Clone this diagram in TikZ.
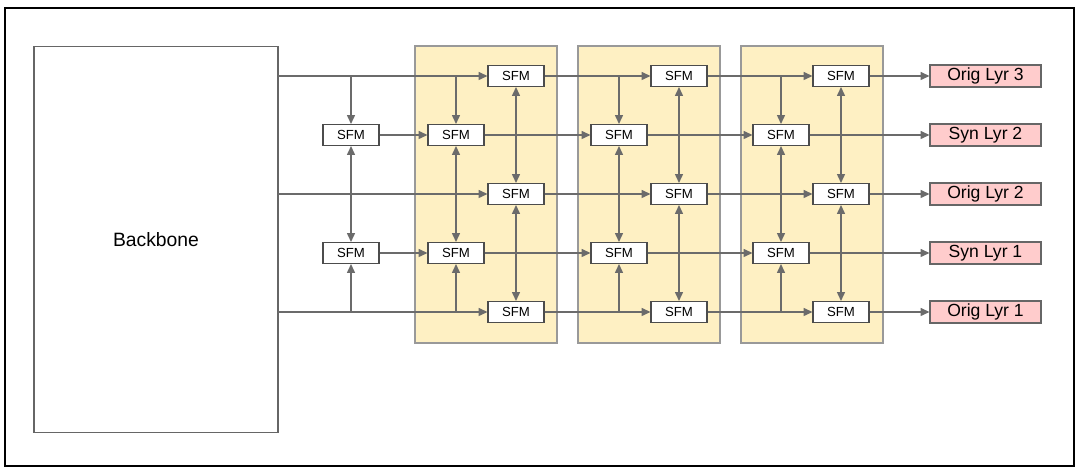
\documentclass[tikz,border=0pt]{standalone}
\usepackage{fontspec}
\setmainfont{Liberation Sans}
\usetikzlibrary{arrows.meta}
\begin{document}
\begin{tikzpicture}[x=0.02cm,y=-0.02cm,
  ln/.style={draw=black!58,line width=0.7pt},
  ar/.style={ln,-{Triangle[length=5pt,width=4.5pt]}},
  dar/.style={ln,{Triangle[length=5pt,width=4.5pt]}-{Triangle[length=5pt,width=4.5pt]}},
  sfm/.style={draw=black!70,fill=white,line width=0.6pt,minimum width=1.12cm,minimum height=0.42cm,inner sep=0pt,font=\fontsize{7.5}{9}\selectfont},
  outbox/.style={draw=black!60,fill=red!20,line width=0.6pt,minimum width=2.22cm,minimum height=0.44cm,inner sep=0pt,font=\fontsize{10}{12}\selectfont},
  blk/.style={draw=black!40,fill=yellow!55!orange!22,line width=0.6pt}]
\useasboundingbox (0,0) rectangle (1080,472);
\draw[line width=0.8pt] (5,8) rectangle (1074,466);
\node[draw=black!60,line width=0.6pt,minimum width=4.88cm,minimum height=7.74cm,inner sep=0pt,font=\fontsize{11}{13}\selectfont] (bb) at (156,239.5) {Backbone};
\foreach \x in {415,578,741} \draw[blk] (\x,46) rectangle ++(142,297);
% nodes
\node[sfm] (p1) at (351,135) {SFM};
\node[sfm] (p2) at (351,253) {SFM};
\foreach \k/\l/\r in {1/456/516,2/619/679,3/781/841}{
  \node[sfm] (b\k l1) at (\l,135) {SFM};
  \node[sfm] (b\k l2) at (\l,253) {SFM};
  \node[sfm] (b\k r1) at (\r,76) {SFM};
  \node[sfm] (b\k r2) at (\r,194) {SFM};
  \node[sfm] (b\k r3) at (\r,312) {SFM};
}
\node[outbox] (o5) at (985.5,76) {Orig Lyr 3};
\node[outbox] (o4) at (985.5,135) {Syn Lyr 2};
\node[outbox] (o3) at (985.5,194) {Orig Lyr 2};
\node[outbox] (o2) at (985.5,253) {Syn Lyr 1};
\node[outbox] (o1) at (985.5,312) {Orig Lyr 1};
% backbone lines
\coordinate (s1) at (278,76); \coordinate (s2) at (278,194); \coordinate (s3) at (278,312);
\draw[ar] (s1) -- (b1r1);
\draw[ar] (s2) -- (b1r2);
\draw[ar] (s3) -- (b1r3);
\draw[ar] (p1.north |- s1) -- (p1);
\draw[ar] (p2.south |- s3) -- (p2);
\draw[dar] (p1) -- (p2);
\draw[ar] (p1) -- (b1l1);
\draw[ar] (p2) -- (b1l2);
\draw[ar] (b1l1.north |- s1) -- (b1l1);
\draw[ar] (b1l2.south |- s3) -- (b1l2);
% within blocks
\foreach \k in {1,2,3}{
  \draw[dar] (b\k l1) -- (b\k l2);
  \draw[dar] (b\k r1) -- (b\k r2);
  \draw[dar] (b\k r2) -- (b\k r3);
}
% between blocks
\foreach \a/\b in {1/2,2/3}{
  \draw[ar] (b\a r1) -- (b\b r1);
  \draw[ar] (b\a r2) -- (b\b r2);
  \draw[ar] (b\a r3) -- (b\b r3);
  \draw[ar] (b\a l1) -- (b\b l1);
  \draw[ar] (b\a l2) -- (b\b l2);
  \draw[ar] (b\b l1.north |- b\a r1) -- (b\b l1);
  \draw[ar] (b\b l2.south |- b\a r3) -- (b\b l2);
}
\draw[ar] (b3r1) -- (o5);
\draw[ar] (b3l1) -- (o4);
\draw[ar] (b3r2) -- (o3);
\draw[ar] (b3l2) -- (o2);
\draw[ar] (b3r3) -- (o1);
\end{tikzpicture}
\end{document}
